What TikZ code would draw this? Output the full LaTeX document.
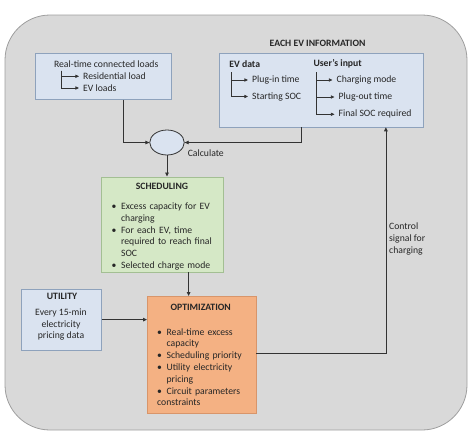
\documentclass[tikz,border=0pt]{standalone}
\usepackage{fontspec}
\setmainfont{Carlito}
\usepackage{xcolor}
\usepackage{tikz}
\usetikzlibrary{arrows.meta}
\usetikzlibrary{shapes.geometric}
\definecolor{fondo}{HTML}{D9D9D9}
\definecolor{marco}{HTML}{9E9E9E}
\definecolor{azul}{HTML}{DAE3F0}
\definecolor{bordeazul}{HTML}{8EA2BC}
\definecolor{verde}{HTML}{D5E8C6}
\definecolor{bordeverde}{HTML}{A3BF93}
\definecolor{naranja}{HTML}{F4B183}
\definecolor{bordenaranja}{HTML}{D8956A}
\definecolor{linea}{HTML}{333333}
\definecolor{texto}{HTML}{262626}
\newcommand*{\punto}{\par\noindent\hangindent=9.4pt\hangafter=1\makebox[9.4pt][l]{\textbullet}}
\hyphenpenalty=10000
\exhyphenpenalty=10000

\begin{document}
\begin{tikzpicture}[x=1pt,y=-1pt,text=texto,
caja/.style={draw=bordeazul,fill=azul,line width=0.8pt,inner sep=0pt,anchor=north west},
flecha/.style={draw=linea,line width=0.8pt,-{Triangle[length=4pt,width=3.6pt]}},
rama/.style={draw=linea,line width=0.7pt,-{Triangle[length=3.6pt,width=3.2pt]}},
txt/.style={anchor=west,inner xsep=4pt,inner ysep=1pt},
lista/.style={anchor=north west,inner sep=0pt,align=left}]\fontsize{9.7}{11.8}\selectfont
\useasboundingbox(0,0)rectangle(474,440);
\fill[fondo,draw=marco,line width=0.8pt,rounded corners=45pt](5,15)rectangle(467,430);

% cargas conectadas
\node[caja,minimum width=136pt,minimum height=46pt](R)at(35,53){};
\node[anchor=west,inner sep=0pt](r)at(53.8,64.3){Real-time connected loads};
\coordinate(r0)at(61.5,70.7);
\node[txt](r1)at(79,76.3){Residential load};
\node[txt](r2)at(79,88){EV loads};
\draw[rama](r0)|-(r1.west);
\draw[rama](r0)|-(r2.west);

% informacion de cada EV
\node[font=\bfseries](Et)at(317.6,43.3){EACH EV INFORMATION};
\node[caja,minimum width=204.5pt,minimum height=74pt](E)at(218.5,52.5){};
\node[anchor=west,inner sep=0pt,font=\bfseries](ed)at(229.2,64){EV data};
\coordinate(e0)at(231.3,72);
\node[txt](e1)at(248,80){Plug-in time};
\node[txt](e2)at(248,96.5){Starting SOC};
\draw[rama](e0)|-(e1.west);
\draw[rama](e0)|-(e2.west);
\node[anchor=west,inner sep=0pt,font=\bfseries](ui)at(313.3,64){User's input};
\coordinate(u0)at(316,72);
\node[txt](u1)at(332.5,80){Charging mode};
\node[txt](u2)at(334.5,97){Plug-out time};
\node[txt](u3)at(334.5,114.3){Final SOC required};
\draw[rama](u0)|-(u1.west);
\draw[rama](u0)|-(u2.west);
\draw[rama](u0)|-(u3.west);

% calculo
\node[draw=linea,fill=azul,line width=0.8pt,ellipse,inner sep=0pt,minimum width=34.5pt,minimum height=25pt](C)at(167,142.5){};
\node[anchor=west,inner sep=0pt](cl)at(187.6,153.3){Calculate};

% scheduling
\node[caja,fill=verde,draw=bordeverde,minimum width=121.5pt,minimum height=95pt](S)at(101,176.5){};
\node[font=\bfseries](st)at(162,186){SCHEDULING};
\node[lista,text width=103pt](sl)at(111.5,197.5){\punto Excess capacity for EV charging\punto For each EV, time required to reach final SOC\punto Selected charge mode};

% utility
\node[caja,minimum width=80pt,minimum height=61.5pt](U)at(21,288.5){};
\node[font=\bfseries](ut)at(62,296.7){UTILITY};
\node[align=center,inner sep=0pt](ux)at(61,324.5){Every 15-min\\electricity\\pricing data};

% optimization
\node[caja,fill=naranja,draw=bordenaranja,minimum width=108.5pt,minimum height=116.5pt](O)at(147,296){};
\node[font=\bfseries](ot)at(200.7,307.3){OPTIMIZATION};
\node[lista,text width=92pt](ol)at(157,323){\punto Real-time excess capacity\punto Scheduling priority\punto Utility electricity pricing\punto Circuit parameters constraints};

\node[lista](cs)at(389,223){Control\\signal for\\charging};

\draw[flecha]([xshift=19.7pt]R.south)|-(C.west);
\draw[flecha]([xshift=-20pt]E.south)|-(C.east);
\draw[flecha](C.south)--(C.south|-S.north);
\draw[flecha]([xshift=26.5pt]S.south)--([xshift=26.5pt]S.south|-O.north);
\draw[flecha](U.east)--(U.east-|O.west);
\draw[flecha]([yshift=1.5pt]O.east)-|([xshift=64.75pt]E.south);

\end{tikzpicture}
\end{document}
